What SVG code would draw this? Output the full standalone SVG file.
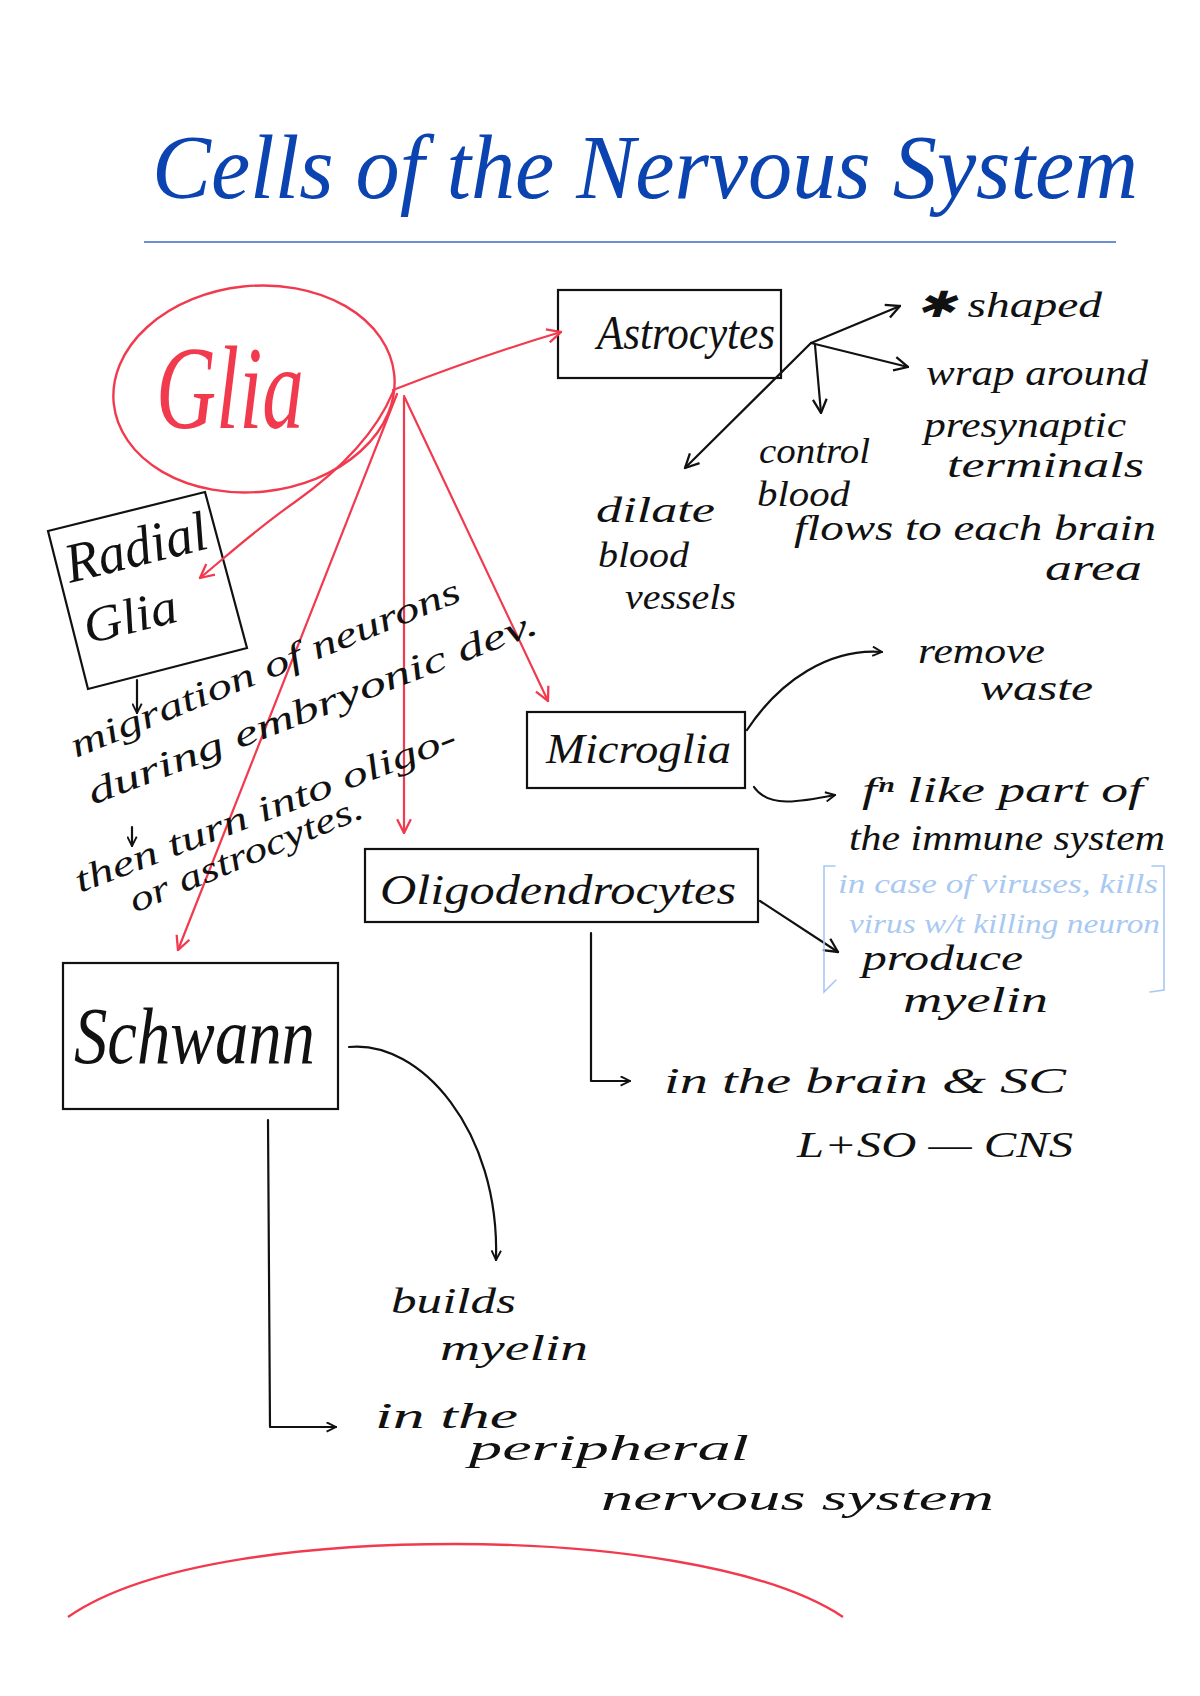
<svg xmlns="http://www.w3.org/2000/svg" width="1200" height="1696" viewBox="0 0 1200 1696">
<style>
  .hw { font-family: "Liberation Serif", "DejaVu Serif", serif; font-style: italic; fill: #111; }
  .note { font-size: 36px; }
  .box { fill: none; stroke: #111; stroke-width: 2.2; }
  .red { fill: none; stroke: #f23a4f; stroke-width: 2.2; stroke-linecap: round; }
  .blk { fill: none; stroke: #111; stroke-width: 2.2; stroke-linecap: round; stroke-linejoin: round; }
  .blue { fill: none; stroke: #a9c9f2; stroke-width: 1.6; stroke-linecap: round; }
</style>
<defs>
  <marker id="ar" viewBox="0 0 14 14" refX="13" refY="7" markerWidth="16" markerHeight="16" markerUnits="userSpaceOnUse" orient="auto">
    <path d="M1,1 L13,7 L1,13" fill="none" stroke="#f23a4f" stroke-width="2"/>
  </marker>
  <marker id="ab" viewBox="0 0 14 14" refX="13" refY="7" markerWidth="16" markerHeight="16" markerUnits="userSpaceOnUse" orient="auto">
    <path d="M1,1 L13,7 L1,13" fill="none" stroke="#111" stroke-width="2"/>
  </marker>
  <marker id="abs" viewBox="0 0 14 14" refX="13" refY="7" markerWidth="11" markerHeight="11" markerUnits="userSpaceOnUse" orient="auto">
    <path d="M1,1 L13,7 L1,13" fill="none" stroke="#111" stroke-width="2.4"/>
  </marker>
</defs>
<rect width="1200" height="1696" fill="#ffffff"/>

<g id="title">
  <text x="152" y="198" font-family="Liberation Serif, serif" font-style="italic" font-size="92" fill="#0b43b0" textLength="986" lengthAdjust="spacingAndGlyphs">Cells of the Nervous System</text>
  <line x1="144" y1="242" x2="1116" y2="242" stroke="#6b8fd4" stroke-width="2"/>
</g>

<g id="glia">
  <ellipse cx="254" cy="389" rx="141" ry="103" transform="rotate(-6 254 389)" fill="none" stroke="#f23a4f" stroke-width="2.4"/>
  <text x="156" y="428" font-family="Liberation Serif, serif" font-style="italic" font-size="118" fill="#f23a4f" textLength="148" lengthAdjust="spacingAndGlyphs">Glia</text>
</g>

<g id="astrocytes">
  <rect x="558" y="290" width="223" height="88" class="box"/>
  <text x="597" y="349" class="hw" font-size="48" textLength="178" lengthAdjust="spacingAndGlyphs">Astrocytes</text>
</g>

<g id="radial-glia">
  <polygon points="48,531 205,492 247,648 88,689" class="box"/>
  <text x="70" y="583" class="hw" font-size="56" transform="rotate(-14 70 583)" textLength="145" lengthAdjust="spacingAndGlyphs">Radial</text>
  <text x="88" y="644" class="hw" font-size="50" transform="rotate(-14 88 644)" textLength="95" lengthAdjust="spacingAndGlyphs">Glia</text>
</g>

<g id="microglia">
  <rect x="527" y="712" width="218" height="76" class="box"/>
  <text x="546" y="763" class="hw" font-size="42" textLength="185" lengthAdjust="spacingAndGlyphs">Microglia</text>
</g>

<g id="oligodendrocytes">
  <rect x="365" y="849" width="393" height="73" class="box"/>
  <text x="380" y="904" class="hw" font-size="42" textLength="356" lengthAdjust="spacingAndGlyphs">Oligodendrocytes</text>
</g>

<g id="schwann">
  <rect x="63" y="963" width="275" height="146" class="box"/>
  <text x="74" y="1063" class="hw" font-size="80" textLength="241" lengthAdjust="spacingAndGlyphs">Schwann</text>
</g>

<g id="connectors">
  <!-- red from Glia -->
  <path class="red" d="M393,390 C450,368 500,350 561,332" marker-end="url(#ar)"/>
  <path class="red" d="M393,392 C375,435 340,470 295,502 C255,530 228,555 200,578" marker-end="url(#ar)"/>
  <path class="red" d="M397,394 L178,950" marker-end="url(#ar)"/>
  <path class="red" d="M404,398 L404,833" marker-end="url(#ar)"/>
  <path class="red" d="M404,396 L548,701" marker-end="url(#ar)"/>
  <!-- astrocytes branches -->
  <path class="blk" d="M811,343 L900,306" marker-end="url(#ab)"/>
  <path class="blk" d="M811,343 L908,367" marker-end="url(#ab)"/>
  <path class="blk" d="M815,345 L821,413" marker-end="url(#ab)"/>
  <path class="blk" d="M811,343 L685,468" marker-end="url(#ab)"/>
  <!-- radial glia small arrows -->
  <path class="blk" d="M137,680 L137,713" marker-end="url(#abs)"/>
  <path class="blk" d="M132,827 L132,846" marker-end="url(#abs)"/>
  <!-- microglia -->
  <path class="blk" d="M747,730 C780,680 830,648 882,652" marker-end="url(#abs)"/>
  <path class="blk" d="M754,787 C768,808 800,802 835,795" marker-end="url(#abs)"/>
  <!-- oligodendrocytes -->
  <path class="blk" d="M760,901 L838,952" marker-end="url(#ab)"/>
  <path class="blk" d="M591,933 L591,1081 L630,1081" marker-end="url(#abs)"/>
  <!-- schwann -->
  <path class="blk" d="M349,1047 C420,1040 500,1130 496,1260" marker-end="url(#abs)"/>
  <path class="blk" d="M268,1120 L270,1427 L336,1427" marker-end="url(#abs)"/>
</g>

<g id="astrocyte-notes">
  <text x="916" y="317" class="hw note" textLength="186" lengthAdjust="spacingAndGlyphs">✱ shaped</text>
  <text x="926" y="385" class="hw note" textLength="222" lengthAdjust="spacingAndGlyphs">wrap around</text>
  <text x="924" y="437" class="hw note" textLength="202" lengthAdjust="spacingAndGlyphs">presynaptic</text>
  <text x="947" y="477" class="hw note" textLength="197" lengthAdjust="spacingAndGlyphs">terminals</text>
  <text x="759" y="463" class="hw note" textLength="111" lengthAdjust="spacingAndGlyphs">control</text>
  <text x="757" y="506" class="hw note" textLength="93" lengthAdjust="spacingAndGlyphs">blood</text>
  <text x="794" y="540" class="hw note" textLength="362" lengthAdjust="spacingAndGlyphs">flows to each brain</text>
  <text x="1045" y="580" class="hw note" textLength="97" lengthAdjust="spacingAndGlyphs">area</text>
  <text x="596" y="522" class="hw note" textLength="119" lengthAdjust="spacingAndGlyphs">dilate</text>
  <text x="598" y="567" class="hw note" textLength="91" lengthAdjust="spacingAndGlyphs">blood</text>
  <text x="625" y="609" class="hw note" textLength="111" lengthAdjust="spacingAndGlyphs">vessels</text>
</g>

<g id="radial-notes">
  <text x="76" y="758" class="hw note" transform="rotate(-22.2 76 758)" textLength="418" lengthAdjust="spacingAndGlyphs">migration of neurons</text>
  <text x="93" y="805" class="hw note" transform="rotate(-21.1 93 805)" textLength="479" lengthAdjust="spacingAndGlyphs">during embryonic dev.</text>
  <text x="80" y="893" class="hw note" transform="rotate(-21.1 80 893)" textLength="406" lengthAdjust="spacingAndGlyphs">then turn into oligo-</text>
  <text x="135" y="913" class="hw note" transform="rotate(-22.6 135 913)" textLength="250" lengthAdjust="spacingAndGlyphs">or astrocytes.</text>
</g>

<g id="microglia-notes">
  <text x="918" y="663" class="hw note" textLength="127" lengthAdjust="spacingAndGlyphs">remove</text>
  <text x="980" y="700" class="hw note" textLength="113" lengthAdjust="spacingAndGlyphs">waste</text>
  <text x="862" y="802" class="hw note" textLength="281" lengthAdjust="spacingAndGlyphs">fⁿ like part of</text>
  <text x="849" y="850" class="hw note" textLength="316" lengthAdjust="spacingAndGlyphs">the immune system</text>
  <path class="blue" d="M835,866 L824,866 L824,992 L836,980"/>
  <path class="blue" d="M1152,866 L1164,866 L1164,990 L1150,992"/>
  <text x="838" y="893" font-family="Liberation Serif, serif" font-style="italic" font-size="28" fill="#a9c9f2" textLength="320" lengthAdjust="spacingAndGlyphs">in case of viruses, kills</text>
  <text x="849" y="933" font-family="Liberation Serif, serif" font-style="italic" font-size="28" fill="#a9c9f2" textLength="311" lengthAdjust="spacingAndGlyphs">virus w/t killing neuron</text>
</g>

<g id="oligodendrocyte-notes">
  <text x="862" y="970" class="hw note" textLength="161" lengthAdjust="spacingAndGlyphs">produce</text>
  <text x="903" y="1012" class="hw note" textLength="145" lengthAdjust="spacingAndGlyphs">myelin</text>
  <text x="664" y="1093" class="hw note" textLength="402" lengthAdjust="spacingAndGlyphs">in the brain &amp; SC</text>
  <text x="797" y="1157" class="hw note" textLength="276" lengthAdjust="spacingAndGlyphs">L+SO — CNS</text>
</g>

<g id="schwann-notes">
  <text x="391" y="1313" class="hw note" textLength="125" lengthAdjust="spacingAndGlyphs">builds</text>
  <text x="440" y="1360" class="hw note" textLength="148" lengthAdjust="spacingAndGlyphs">myelin</text>
  <text x="375" y="1428" class="hw note" textLength="143" lengthAdjust="spacingAndGlyphs">in the</text>
  <text x="469" y="1460" class="hw note" textLength="280" lengthAdjust="spacingAndGlyphs">peripheral</text>
  <text x="601" y="1510" class="hw note" textLength="393" lengthAdjust="spacingAndGlyphs">nervous system</text>
</g>

<g id="bottom-oval">
  <path d="M68,1617 C150,1560 320,1544 455,1544 C600,1544 765,1565 843,1617" fill="none" stroke="#f23a4f" stroke-width="2.4"/>
</g>
</svg>
